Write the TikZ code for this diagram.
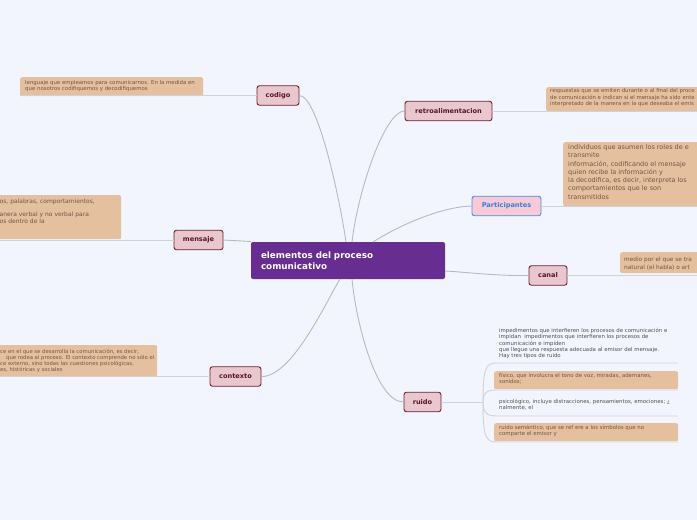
\documentclass[tikz,border=0pt]{standalone}
\usepackage{fontspec}
\setmainfont{DejaVu Sans}
\definecolor{bgc}{RGB}{243,245,254}
\definecolor{notefill}{RGB}{229,192,158}
\definecolor{notetxt}{RGB}{112,86,70}
\definecolor{topfill}{RGB}{232,200,206}
\definecolor{topdraw}{RGB}{110,30,46}
\definecolor{toptxt}{RGB}{90,20,38}
\definecolor{mainc}{RGB}{103,45,145}
\definecolor{pfill}{RGB}{249,201,214}
\definecolor{pdraw}{RGB}{61,143,232}
\definecolor{ptxt}{RGB}{47,128,224}
\definecolor{connc}{RGB}{184,184,190}
\definecolor{leadc}{RGB}{208,210,218}
\definecolor{plaintxt}{RGB}{80,80,80}
\begin{document}
\begin{tikzpicture}[x=1pt,y=-1pt,
  topic/.style={draw=topdraw,fill=topfill,line width=0.9pt,rounded corners=2.5pt,
    font=\fontsize{6.6}{8}\selectfont\bfseries,text=toptxt,inner sep=0pt,minimum height=19.5pt},
  notebox/.style={fill=notefill,rounded corners=2pt,inner sep=0pt,anchor=north west},
  ntext/.style={anchor=north west,inner sep=0pt,align=left,text=notetxt,
    execute at begin node={\rule{0pt}{1em}}},
  conn/.style={draw=connc,line width=0.9pt},
  lead/.style={draw=leadc,line width=0.9pt}]
\useasboundingbox (0,0) rectangle (697,520);
\fill[bgc] (0,0) rectangle (697,520);
\clip (0,0) rectangle (697,520);

% note boxes
\node[notebox,minimum width=183pt,minimum height=19pt] (cn) at (20,77) {};
\node[notebox,minimum width=160pt,minimum height=24pt] (rn) at (546,87) {};
\node[notebox,minimum width=142pt,minimum height=64pt] (pn) at (563,142) {};
\node[notebox,minimum width=131pt,minimum height=44pt] (mn) at (-10,195) {};
\node[notebox,minimum width=85pt,minimum height=21pt] (kn) at (620,252) {};
\node[notebox,minimum width=167pt,minimum height=31pt] (xn) at (-10,345) {};
\node[notebox,minimum width=184pt,minimum height=18pt] (r2box) at (494,371) {};
\node[notebox,minimum width=184pt,minimum height=18pt] (r4box) at (494,423) {};

% topics
\node[fill=mainc,rounded corners=2pt,minimum width=194pt,minimum height=37pt,inner xsep=10pt,
  text width=174pt,align=left,text=white,font=\fontsize{8.8}{11.5}\selectfont\bfseries] (main) at (348,260.5)
  {elementos del proceso\\comunicativo};
\node[topic,minimum width=42pt] (codigo) at (278,95.5) {codigo};
\node[topic,minimum width=87pt] (retro) at (448.5,111) {retroalimentacion};
\node[topic,minimum width=69pt,draw=pdraw,fill=pfill,text=ptxt] (part) at (506.5,206) {Participantes};
\node[topic,minimum width=49pt] (mensaje) at (198.5,240) {mensaje};
\node[topic,minimum width=38pt] (canal) at (548,275.5) {canal};
\node[topic,minimum width=51pt] (contexto) at (235.5,376.5) {contexto};
\node[topic,minimum width=37pt] (ruido) at (422.5,402) {ruido};

% note texts
\node[ntext,font=\fontsize{5.4}{6.3}\selectfont] (ct) at (25,80.1)
  {lenguaje que empleamos para comunicarnos. En la medida en\\que nosotros codifiquemos y decodifiquemos};
\node[ntext,font=\fontsize{5.4}{6.2}\selectfont] (rt) at (550,88.6)
  {respuestas que se emiten durante o al final del proce\\de comunicación e indican si el mensaje ha sido ente\\interpretado de la manera en la que deseaba el emis};
\node[ntext,font=\fontsize{6.5}{8.3}\selectfont] (pt) at (568,144.3)
  {individuos que asumen los roles de e\\transmite\\información, codificando el mensaje\\quien recibe la información y\\la decodifica, es decir, interpreta los\\comportamientos que le son\\transmitidos};
\node[ntext,font=\fontsize{6}{6.6}\selectfont] (mt) at (-0.5,198.9)
  {os, palabras, comportamientos,\\ \\anera verbal y no verbal para\\os dentro de la};
\node[ntext,font=\fontsize{5.8}{7.6}\selectfont] (kt) at (624,256.8)
  {medio por el que se tra\\natural (el habla) o art};
\node[ntext,font=\fontsize{5.3}{6}\selectfont] (xt) at (0,349.1)
  {ce en el que se desarrolla la comunicación, es decir,\\\hspace*{6pt}que rodea al proceso. El contexto comprende no sólo el\\ce externo, sino todas las cuestiones psicológicas,\\es, históricas y sociales};
\node[ntext,font=\fontsize{5.4}{6.3}\selectfont,text=plaintxt] (r1t) at (499,328.1)
  {impedimentos que interfieren los procesos de comunicación e\\impidan\ \ impedimentos que interfieren los procesos de\\comunicación e impiden\\que llegue una respuesta adecuada al emisor del mensaje.\\Hay tres tipos de ruido};
\node[ntext,font=\fontsize{5.4}{6.3}\selectfont] (r2t) at (499,373.1)
  {físico, que involucra el tono de voz, miradas, ademanes,\\sonidos;};
\node[ntext,font=\fontsize{5.4}{6.3}\selectfont,text=plaintxt] (r3t) at (499,399.1)
  {psicológico, incluye distracciones, pensamientos, emociones; ¿\\nalmente, el};
\node[ntext,font=\fontsize{5.4}{6.3}\selectfont] (r4t) at (499,425.1)
  {ruido semántico, que se ref ere a los símbolos que no\\comparte el emisor y};

% leader lines to notes
\draw[lead] (codigo.west) -- (codigo.west -| cn.west);
\draw[lead] (retro.east) -- (retro.east -| rn.east);
\draw[lead] (part.east) -- (part.east -| pn.east);
\draw[lead] (canal.east) -- (canal.east -| kn.east);
\draw[lead] (mensaje.west) -- (mensaje.west -| mn.west);
\draw[lead] (contexto.west) -- (contexto.west -| xn.west);

% center connectors
\coordinate (c1) at (346,242);
\coordinate (c2) at (352,242);
\coordinate (c3) at (373,242);
\coordinate (c4) at (251,241.5);
\coordinate (c5) at (445,271);
\coordinate (c6) at (340,279);
\coordinate (c7) at (352,279);
\draw[conn] (codigo.east) .. controls (318,96) and (340,200) .. (c1);
\draw[conn] (retro.west) .. controls (385,111) and (358,190) .. (c2);
\draw[conn] (part.west) .. controls (440,207) and (398,226) .. (c3);
\draw[conn] (mensaje.east) -- (c4);
\draw[conn] (canal.west) .. controls (495,276) and (465,272) .. (c5);
\draw[conn] (contexto.east) .. controls (292,377) and (326,302) .. (c6);
\draw[conn] (ruido.west) .. controls (376,402) and (356,322) .. (c7);

% ruido bracket
\coordinate (rb) at (483,402);
\coordinate (r1a) at (497,363); \coordinate (r1b) at (678,363);
\coordinate (r2a) at (497,390); \coordinate (r2b) at (678,390);
\coordinate (r3a) at (497,416); \coordinate (r3b) at (678,416);
\coordinate (r4a) at (497,442); \coordinate (r4b) at (678,442);
\draw[lead] (ruido.east) -- (rb);
\draw[lead] (rb) .. controls (483,367) and (486,363) .. (r1a) -- (r1b);
\draw[lead] (rb) .. controls (483,393) and (486,390) .. (r2a) -- (r2b);
\draw[lead] (rb) .. controls (483,412) and (486,416) .. (r3a) -- (r3b);
\draw[lead] (rb) .. controls (483,438) and (486,442) .. (r4a) -- (r4b);
\end{tikzpicture}
\end{document}
